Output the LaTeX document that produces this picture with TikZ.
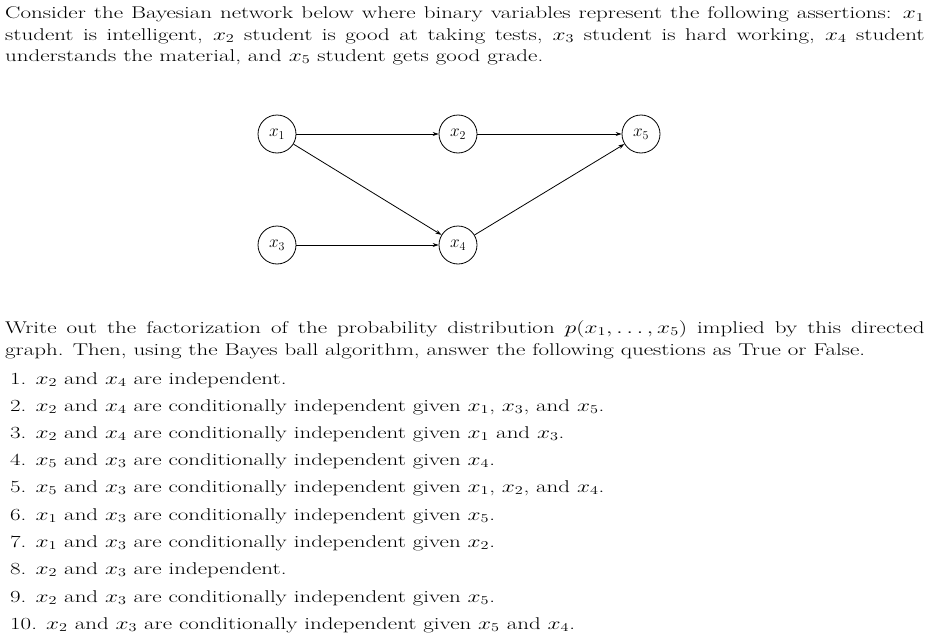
\documentclass[tikz,border=0pt]{standalone}
\usepackage{graphicx}
\usetikzlibrary{arrows.meta}
\newcommand{\sx}{1.35}
\newlength{\fullw}\setlength{\fullw}{681pt}
\newcommand{\fullline}[2]{\node[anchor=base west,inner sep=0] at (5,#1) {\scalebox{\sx}[1]{\makebox[\fullw][s]{#2}}};}
\newcommand{\lastline}[3][5]{\node[anchor=base west,inner sep=0] at (#1,#2) {\scalebox{\sx}[1]{#3}};}
\tikzset{var/.style={circle,draw,line width=0.8pt,minimum size=38pt,inner sep=0,font=\fontsize{17}{20}\selectfont},
 edge/.style={-{Stealth[length=6pt,width=4pt]},line width=0.8pt}}
\begin{document}
\begin{tikzpicture}[x=1pt,y=-1pt,font=\fontsize{17}{20}\selectfont]
\useasboundingbox[fill=white] (0,0) rectangle (935,637);
\fullline{19}{Consider the Bayesian network below where binary variables represent the following assertions: $x_1$}
\fullline{40}{student is intelligent, $x_2$ student is good at taking tests, $x_3$ student is hard working, $x_4$ student}
\lastline{61}{understands the material, and $x_5$ student gets good grade.}
\node[var] (x1) at (277,134) {$x_1$};
\node[var] (x2) at (458,134) {$x_2$};
\node[var] (x5) at (641,134) {$x_5$};
\node[var] (x3) at (277,245) {$x_3$};
\node[var] (x4) at (458,245) {$x_4$};
\draw[edge] (x1) -- (x2);
\draw[edge] (x2) -- (x5);
\draw[edge] (x1) -- (x4);
\draw[edge] (x3) -- (x4);
\draw[edge] (x4) -- (x5);
\fullline{333}{Write out the factorization of the probability distribution $p(x_1,\ldots,x_5)$ implied by this directed}
\lastline{355}{graph. Then, using the Bayes ball algorithm, answer the following questions as True or False.}
\lastline[10]{384}{1. $x_2$ and $x_4$ are independent.}
\lastline[10]{411}{2. $x_2$ and $x_4$ are conditionally independent given $x_1$, $x_3$, and $x_5$.}
\lastline[10]{438}{3. $x_2$ and $x_4$ are conditionally independent given $x_1$ and $x_3$.}
\lastline[10]{465}{4. $x_5$ and $x_3$ are conditionally independent given $x_4$.}
\lastline[10]{492}{5. $x_5$ and $x_3$ are conditionally independent given $x_1$, $x_2$, and $x_4$.}
\lastline[10]{520}{6. $x_1$ and $x_3$ are conditionally independent given $x_5$.}
\lastline[10]{547}{7. $x_1$ and $x_3$ are conditionally independent given $x_2$.}
\lastline[10]{574}{8. $x_2$ and $x_3$ are independent.}
\lastline[10]{602}{9. $x_2$ and $x_3$ are conditionally independent given $x_5$.}
\lastline[10]{629}{10. $x_2$ and $x_3$ are conditionally independent given $x_5$ and $x_4$.}
\end{tikzpicture}
\end{document}
